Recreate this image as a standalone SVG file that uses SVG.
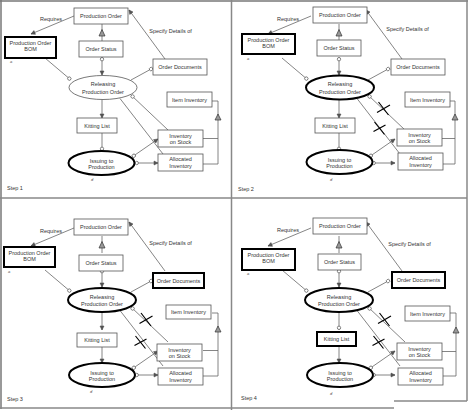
<svg xmlns="http://www.w3.org/2000/svg" width="474" height="418" viewBox="0 0 474 418">
<style>
.box{fill:#fff;stroke:#555;stroke-width:0.8}
.thick{stroke:#000;stroke-width:2}
.t{font-family:"Liberation Sans",Arial,sans-serif;font-size:5.5px;fill:#333;text-anchor:middle}
.s{text-anchor:start}
.m{font-style:italic;font-size:4px}
.c{stroke:#666;stroke-width:0.8;fill:none}
.gen{fill:#999;stroke:#333;stroke-width:0.7}
.x{stroke:#000;stroke-width:1.2;fill:none}
.frame{stroke:#888;stroke-width:1.5;fill:none}
</style>
<defs>
<marker id="ae" markerUnits="userSpaceOnUse" markerWidth="10" markerHeight="10" viewBox="-5 -5 10 10" refX="0" refY="0" orient="auto" overflow="visible"><path d="M-4,-2 L0,0 L-4,2 z" fill="#555" stroke="#444" stroke-width="0.5"/></marker>
<marker id="cs" markerUnits="userSpaceOnUse" markerWidth="10" markerHeight="10" viewBox="-5 -5 10 10" refX="0" refY="0" orient="auto" overflow="visible"><circle cx="2.2" cy="0" r="1.7" fill="#fff" stroke="#555" stroke-width="0.7"/></marker>
<marker id="ce" markerUnits="userSpaceOnUse" markerWidth="10" markerHeight="10" viewBox="-5 -5 10 10" refX="0" refY="0" orient="auto" overflow="visible"><circle cx="-2.2" cy="0" r="1.7" fill="#fff" stroke="#555" stroke-width="0.7"/></marker>
</defs>
<rect x="0" y="0" width="474" height="418" fill="#fff"/>
<g id="frames">
<line class="frame" x1="0" y1="1" x2="468" y2="1" stroke-width="2.5" style="stroke:#777"/>
<line class="frame" x1="1" y1="0" x2="1" y2="409" style="stroke:#777" stroke-width="2"/>
<line class="frame" x1="231.5" y1="0" x2="231.5" y2="410"/>
<line class="frame" x1="467" y1="0" x2="467" y2="401"/>
<line class="frame" x1="0" y1="198" x2="467" y2="198"/>
<line class="frame" x1="0" y1="408" x2="394" y2="408"/>
<line class="frame" x1="394" y1="401" x2="467" y2="401"/>
</g>
<g id="step-labels">
<text class="t s" x="7" y="190">Step 1</text>
<text class="t s" x="238" y="191">Step 2</text>
<text class="t s" x="7" y="401">Step 3</text>
<text class="t s" x="241" y="400">Step 4</text>
</g>

<!-- Quadrant 1 -->
<g id="quad1">
<g id="q1-connectors">
<line class="c" x1="74" y1="16" x2="31" y2="34" marker-end="url(#ae)"/>
<text class="t" x="51" y="21">Requires</text>
<line class="c" x1="102" y1="41" x2="102" y2="24"/>
<polygon class="gen" points="102,29.5 99,36 105,36"/>
<line class="c" x1="102" y1="57" x2="102" y2="75" marker-start="url(#cs)" marker-end="url(#ae)"/>
<line class="c" x1="45" y1="58" x2="71" y2="80" marker-end="url(#ce)"/>
<line class="c" x1="131" y1="80" x2="153" y2="68" marker-end="url(#ce)"/>
<line class="c" x1="165" y1="59" x2="129" y2="10" marker-end="url(#ae)"/>
<text class="t" x="170.5" y="33">Specify Details of</text>
<line class="c" x1="102" y1="99.5" x2="102" y2="118" marker-end="url(#ae)"/>
<line class="c" x1="102" y1="133" x2="102" y2="151" marker-end="url(#ce)"/>
<line class="c" x1="131" y1="95" x2="168" y2="130" marker-start="url(#cs)"/>
<line class="c" x1="120" y1="98.5" x2="163" y2="154"/>
<line class="c" x1="132" y1="157" x2="158" y2="139" marker-start="url(#cs)" marker-end="url(#ae)"/>
<line class="c" x1="134.5" y1="163" x2="158" y2="163" marker-start="url(#cs)" marker-end="url(#ae)"/>
<polyline class="c" points="212,101 218,101 218,164 203,164"/>
<line class="c" x1="203" y1="138.5" x2="218" y2="138.5"/>
<polygon class="gen" points="218,114 215,120 221,120"/>
</g>
<g id="q1-po"><rect class="box" x="74" y="8" width="54" height="16"/><text class="t" x="101" y="17.8">Production Order</text></g>
<g id="q1-bom"><rect class="box thick" x="5" y="37" width="51" height="21"/><text class="t" x="30.5" y="44.8">Production Order</text><text class="t" x="30.5" y="51.3">BOM</text><text class="t m" x="11" y="63">a</text></g>
<g id="q1-status"><rect class="box" x="79" y="41" width="44" height="16"/><text class="t" x="101" y="50.8">Order Status</text></g>
<g id="q1-docs"><rect class="box" x="153" y="59" width="54" height="16"/><text class="t" x="180" y="69.3">Order Documents</text></g>
<g id="q1-item"><rect class="box" x="167" y="92" width="45" height="15"/><text class="t" x="189.5" y="101.6">Item Inventory</text></g>
<g id="q1-kit"><rect class="box" x="77" y="118" width="40" height="15"/><text class="t" x="97" y="127.6">Kitting List</text></g>
<g id="q1-stock"><rect class="box" x="158" y="130" width="45" height="17"/><text class="t" x="180.5" y="137.8">Inventory</text><text class="t" x="180.5" y="144.4">on Stock</text></g>
<g id="q1-alloc"><rect class="box" x="158" y="154" width="45" height="17"/><text class="t" x="180.5" y="161.3">Allocated</text><text class="t" x="180.5" y="167.9">Inventory</text></g>
<g id="q1-rel"><ellipse class="box" cx="103" cy="87.5" rx="34" ry="12"/><text class="t" x="103" y="86">Releasing</text><text class="t" x="103" y="93.5">Production Order</text></g>
<g id="q1-iss"><ellipse class="box thick" cx="101.5" cy="163" rx="33" ry="12"/><text class="t" x="101.5" y="162.6">Issuing to</text><text class="t" x="101.5" y="169.3">Production</text><text class="t m" x="92" y="181">d</text></g>
</g>

<!-- Quadrant 2 -->
<g id="quad2" transform="translate(237,0)">
<g id="q2-connectors">
<line class="c" x1="74" y1="16" x2="31" y2="34" marker-end="url(#ae)"/>
<text class="t" x="51" y="21">Requires</text>
<line class="c" x1="102" y1="41" x2="102" y2="24"/>
<polygon class="gen" points="102,29.5 99,36 105,36"/>
<line class="c" x1="102" y1="57" x2="102" y2="75" marker-start="url(#cs)" marker-end="url(#ae)"/>
<line class="c" x1="45" y1="58" x2="71" y2="80" marker-end="url(#ce)"/>
<line class="c" x1="131" y1="80" x2="153" y2="68" marker-end="url(#ce)"/>
<line class="c" x1="165" y1="59" x2="129" y2="10" marker-end="url(#ae)"/>
<text class="t" x="170.5" y="31">Specify Details of</text>
<line class="c" x1="102" y1="99.5" x2="102" y2="118" marker-end="url(#ae)"/>
<line class="c" x1="102" y1="133" x2="102" y2="151" marker-end="url(#ce)"/>
<line class="c" x1="131" y1="95" x2="168" y2="130" marker-start="url(#cs)"/>
<line class="c" x1="120" y1="98.5" x2="163" y2="154"/>
<line class="c" x1="132" y1="157" x2="158" y2="139" marker-start="url(#cs)" marker-end="url(#ae)"/>
<line class="c" x1="134.5" y1="163" x2="158" y2="163" marker-start="url(#cs)" marker-end="url(#ae)"/>
<polyline class="c" points="212,101 218,101 218,164 203,164"/>
<line class="c" x1="203" y1="138.5" x2="218" y2="138.5"/>
<polygon class="gen" points="218,114 215,120 221,120"/>
<path class="x" d="M141.5,102 L151.5,115 M140,112.5 L153,105"/>
<path class="x" d="M137.5,122 L147.5,134.5 M136.5,131.5 L148.5,125"/>
</g>
<g id="q2-po"><rect class="box" x="76" y="7" width="54" height="16"/><text class="t" x="103" y="16.8">Production Order</text></g>
<g id="q2-bom"><rect class="box thick" x="5" y="34" width="53" height="20"/><text class="t" x="31.5" y="41.5">Production Order</text><text class="t" x="31.5" y="48">BOM</text><text class="t m" x="11" y="60">a</text></g>
<g id="q2-status"><rect class="box" x="80" y="40" width="44" height="16"/><text class="t" x="102" y="49.8">Order Status</text></g>
<g id="q2-docs"><rect class="box" x="154" y="59" width="54" height="16"/><text class="t" x="181" y="69.3">Order Documents</text></g>
<g id="q2-item"><rect class="box" x="168" y="92" width="45" height="15"/><text class="t" x="190.5" y="101.6">Item Inventory</text></g>
<g id="q2-kit"><rect class="box" x="78" y="118" width="40" height="15"/><text class="t" x="98" y="127.6">Kitting List</text></g>
<g id="q2-stock"><rect class="box" x="160" y="129" width="45" height="17"/><text class="t" x="182.5" y="136.8">Inventory</text><text class="t" x="182.5" y="143.4">on Stock</text></g>
<g id="q2-alloc"><rect class="box" x="161" y="153" width="45" height="17"/><text class="t" x="183.5" y="160.3">Allocated</text><text class="t" x="183.5" y="166.9">Inventory</text></g>
<g id="q2-rel"><ellipse class="box thick" cx="103" cy="87.5" rx="34" ry="12"/><text class="t" x="103" y="86">Releasing</text><text class="t" x="103" y="93.5">Production Order</text></g>
<g id="q2-iss"><ellipse class="box thick" cx="102.5" cy="162" rx="33" ry="12"/><text class="t" x="102.5" y="161.6">Issuing to</text><text class="t" x="102.5" y="168.3">Production</text><text class="t m" x="94" y="181">d</text></g>
</g>

<!-- Quadrant 3 -->
<g id="quad3" transform="translate(0,212)">
<g id="q3-connectors">
<line class="c" x1="74" y1="16" x2="31" y2="34" marker-end="url(#ae)"/>
<text class="t" x="51" y="21">Requires</text>
<line class="c" x1="102" y1="41" x2="102" y2="24"/>
<polygon class="gen" points="102,29.5 99,36 105,36"/>
<line class="c" x1="102" y1="57" x2="102" y2="75" marker-start="url(#cs)" marker-end="url(#ae)"/>
<line class="c" x1="45" y1="58" x2="71" y2="80" marker-end="url(#ce)"/>
<line class="c" x1="131" y1="80" x2="153" y2="68" marker-end="url(#ce)"/>
<line class="c" x1="165" y1="59" x2="129" y2="10" marker-end="url(#ae)"/>
<text class="t" x="170.5" y="33">Specify Details of</text>
<line class="c" x1="102" y1="99.5" x2="102" y2="118" marker-end="url(#ae)"/>
<line class="c" x1="102" y1="133" x2="102" y2="151" marker-end="url(#ae)"/>
<line class="c" x1="131" y1="95" x2="168" y2="130" marker-start="url(#cs)"/>
<line class="c" x1="120" y1="98.5" x2="163" y2="154"/>
<line class="c" x1="132" y1="157" x2="158" y2="139" marker-start="url(#cs)" marker-end="url(#ae)"/>
<line class="c" x1="134.5" y1="163" x2="158" y2="163" marker-start="url(#cs)" marker-end="url(#ae)"/>
<polyline class="c" points="212,101 218,101 218,164 203,164"/>
<line class="c" x1="203" y1="138.5" x2="218" y2="138.5"/>
<polygon class="gen" points="218,114 215,120 221,120"/>
<path class="x" d="M141,101 L151,114 M139.5,111.5 L152.5,104"/>
<path class="x" d="M135.5,124 L145.5,136.5 M134.5,133.5 L146.5,127"/>
</g>
<g id="q3-po"><rect class="box" x="74" y="7" width="54" height="16"/><text class="t" x="101" y="16.8">Production Order</text></g>
<g id="q3-bom"><rect class="box thick" x="4" y="35" width="51" height="20"/><text class="t" x="29.5" y="42.5">Production Order</text><text class="t" x="29.5" y="49">BOM</text><text class="t m" x="9" y="61">a</text></g>
<g id="q3-status"><rect class="box" x="79" y="43" width="44" height="16"/><text class="t" x="101" y="52.8">Order Status</text></g>
<g id="q3-docs"><rect class="box thick" x="153" y="61" width="51" height="15"/><text class="t" x="178.5" y="70.6">Order Documents</text></g>
<g id="q3-item"><rect class="box" x="166" y="93" width="45" height="14"/><text class="t" x="188.5" y="102">Item Inventory</text></g>
<g id="q3-kit"><rect class="box" x="77" y="121" width="40" height="14"/><text class="t" x="97" y="130">Kitting List</text></g>
<g id="q3-stock"><rect class="box" x="157" y="132" width="45" height="17"/><text class="t" x="179.5" y="139.8">Inventory</text><text class="t" x="179.5" y="146.4">on Stock</text></g>
<g id="q3-alloc"><rect class="box" x="158" y="156" width="45" height="17"/><text class="t" x="180.5" y="163.3">Allocated</text><text class="t" x="180.5" y="169.9">Inventory</text></g>
<g id="q3-rel"><ellipse class="box thick" cx="102" cy="88" rx="34" ry="12"/><text class="t" x="102" y="86.5">Releasing</text><text class="t" x="102" y="94">Production Order</text></g>
<g id="q3-iss"><ellipse class="box thick" cx="102" cy="163" rx="33" ry="12"/><text class="t" x="102" y="162.6">Issuing to</text><text class="t" x="102" y="169.3">Production</text><text class="t m" x="91" y="181">d</text></g>
</g>

<!-- Quadrant 4 -->
<g id="quad4" transform="translate(237,212)">
<g id="q4-connectors">
<line class="c" x1="74" y1="16" x2="31" y2="34" marker-end="url(#ae)"/>
<text class="t" x="51" y="20">Requires</text>
<line class="c" x1="102" y1="41" x2="102" y2="24"/>
<polygon class="gen" points="102,29.5 99,36 105,36"/>
<line class="c" x1="102" y1="57" x2="102" y2="75" marker-start="url(#cs)" marker-end="url(#ae)"/>
<line class="c" x1="45" y1="58" x2="71" y2="80" marker-end="url(#ce)"/>
<line class="c" x1="131" y1="80" x2="153" y2="68" marker-end="url(#ce)"/>
<line class="c" x1="165" y1="59" x2="129" y2="10" marker-end="url(#ae)"/>
<text class="t" x="172.5" y="34">Specify Details of</text>
<line class="c" x1="102" y1="99.5" x2="102" y2="118" marker-end="url(#ce)"/>
<line class="c" x1="102" y1="133" x2="102" y2="151" marker-end="url(#ae)"/>
<line class="c" x1="131" y1="95" x2="168" y2="130" marker-start="url(#cs)"/>
<line class="c" x1="120" y1="98.5" x2="163" y2="154"/>
<line class="c" x1="132" y1="157" x2="158" y2="139" marker-start="url(#cs)" marker-end="url(#ae)"/>
<line class="c" x1="134.5" y1="163" x2="158" y2="163" marker-start="url(#cs)" marker-end="url(#ae)"/>
<polyline class="c" points="213,101 219,101 219,164 204,164"/>
<line class="c" x1="204" y1="139.5" x2="219" y2="139.5"/>
<polygon class="gen" points="219,115 216,121 222,121"/>
<path class="x" d="M142.5,101 L152.5,114 M141,111.5 L154,104"/>
<path class="x" d="M136.5,124 L146.5,136.5 M135.5,133.5 L147.5,127"/>
</g>
<g id="q4-po"><rect class="box" x="76" y="6" width="54" height="16"/><text class="t" x="103" y="15.8">Production Order</text></g>
<g id="q4-bom"><rect class="box thick" x="5" y="37" width="53" height="21"/><text class="t" x="31.5" y="44.8">Production Order</text><text class="t" x="31.5" y="51.3">BOM</text><text class="t m" x="11" y="63">a</text></g>
<g id="q4-status"><rect class="box" x="81" y="42" width="43" height="16"/><text class="t" x="102.5" y="51.8">Order Status</text></g>
<g id="q4-docs"><rect class="box thick" x="155" y="60" width="53" height="16"/><text class="t" x="181.5" y="70.3">Order Documents</text></g>
<g id="q4-item"><rect class="box" x="168" y="94" width="45" height="15"/><text class="t" x="190.5" y="103.6">Item Inventory</text></g>
<g id="q4-kit"><rect class="box thick" x="80" y="120" width="39" height="14"/><text class="t" x="99.5" y="129">Kitting List</text></g>
<g id="q4-stock"><rect class="box" x="160" y="131" width="45" height="17"/><text class="t" x="182.5" y="138.8">Inventory</text><text class="t" x="182.5" y="145.4">on Stock</text></g>
<g id="q4-alloc"><rect class="box" x="161" y="156" width="45" height="17"/><text class="t" x="183.5" y="163.3">Allocated</text><text class="t" x="183.5" y="169.9">Inventory</text></g>
<g id="q4-rel"><ellipse class="box thick" cx="102" cy="88" rx="34" ry="12"/><text class="t" x="102" y="86.5">Releasing</text><text class="t" x="102" y="94">Production Order</text></g>
<g id="q4-iss"><ellipse class="box thick" cx="103" cy="163" rx="33" ry="12"/><text class="t" x="103" y="162.6">Issuing to</text><text class="t" x="103" y="169.3">Production</text><text class="t m" x="94" y="183">d</text></g>
</g>
</svg>
